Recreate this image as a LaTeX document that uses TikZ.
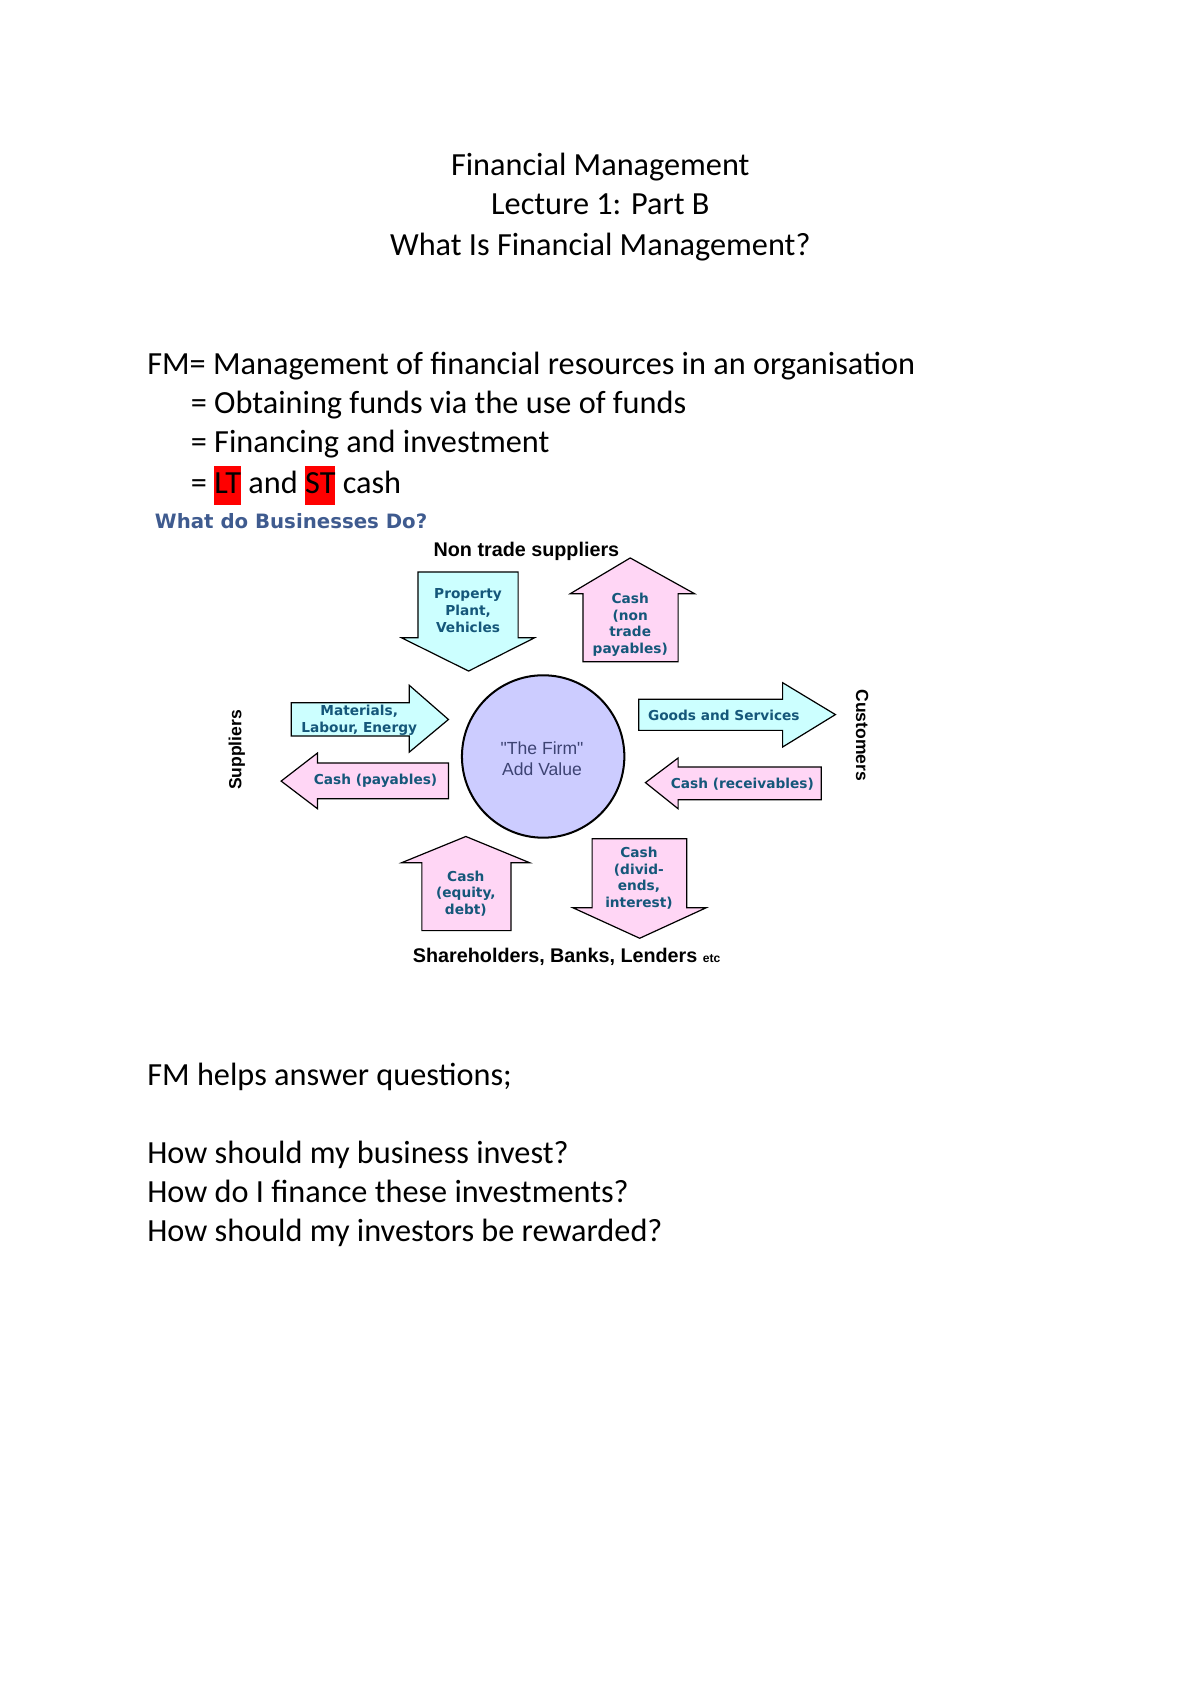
\documentclass[tikz,border=0pt]{standalone}
\usepackage{fontspec}
\setmainfont{Carlito}
\newfontfamily\vfont{DejaVu Sans}
\newfontfamily\afont{Liberation Sans}
\definecolor{flowcyan}{RGB}{204,255,255}
\definecolor{flowpink}{RGB}{255,214,245}
\definecolor{firmfill}{RGB}{204,204,255}
\definecolor{flowtext}{RGB}{21,87,122}
\definecolor{firmtext}{RGB}{61,67,115}
\definecolor{headblue}{RGB}{63,91,143}
\newcommand{\hlred}[1]{{\setlength{\fboxsep}{0pt}\colorbox{red}{\strut #1}}}
\begin{document}
\begin{tikzpicture}[x=0.5397pt,y=-0.5397pt,
  bodytext/.style={anchor=base west,inner sep=0pt,font=\fontsize{16}{19.5}\selectfont},
  titletext/.style={anchor=base,inner sep=0pt,font=\fontsize{16}{19.5}\selectfont},
  flowlabel/.style={align=center,inner sep=0pt,text=flowtext,font=\vfont\bfseries\fontsize{6.8}{8.2}\selectfont},
  sidelabel/.style={inner sep=0pt,font=\afont\bfseries\fontsize{9.8}{11}\selectfont},
  flowin/.style={draw=black,line width=0.6pt,fill=flowcyan},
  flowout/.style={draw=black,line width=0.6pt,fill=flowpink}]
\path[use as bounding box] (0,0) rectangle (1103,1560);

% Text Node
\node[titletext] (title1) at (551.5,161) {Financial Management};
\node[titletext] (title2) at (551.5,197) {Lecture 1: Part B};
\node[titletext] (title3) at (551.5,235) {What Is Financial Management?};

% Text Node
\node[bodytext] (fm1) at (135,344) {FM= Management of financial resources in an organisation};
\node[bodytext] (fm2) at (175,380) {= Obtaining funds via the use of funds};
\node[bodytext] (fm3) at (175,416) {= Financing and investment};
\node[bodytext] (fm4) at (175,453) {= \hlred{LT} and \hlred{ST} cash};

% Text Node
\node[anchor=base west,inner sep=0pt,text=headblue,font=\vfont\bfseries\fontsize{9.8}{11}\selectfont] (what) at (142,485.6) {What do Businesses Do?};

%Shape: Circle
\draw[line width=1pt,fill=firmfill] (499,695) circle (74.6);
\node[align=center,inner sep=0pt,text=firmtext,font=\afont\fontsize{8.7}{10.4}\selectfont] (firm) at (498,696.7) {"The Firm"\\Add Value};

%Shape: Down Arrow
\draw[flowin] (384,525.5) -- (476,525.5) -- (476,586) -- (491,586) -- (430.5,616.5) -- (369,586) -- (384,586) -- cycle;
\node[flowlabel] (ppv) at (430,561) {Property\\Plant,\\Vehicles};
%Shape: Up Arrow
\draw[flowout] (535.6,608) -- (535.6,545.4) -- (524,545.4) -- (579,512.6) -- (638,545.4) -- (623,545.4) -- (623,608) -- cycle;
\node[flowlabel] (ntp) at (579,574) {Cash\\(non\\trade\\payables)};
%Shape: Right Arrow
\draw[flowin] (267.5,645.6) -- (376,645.6) -- (376,629.6) -- (412,661) -- (376,691) -- (376,676.2) -- (267.5,676.2) -- cycle;
\node[flowlabel] (mle) at (330,661.5) {Materials,\\Labour, Energy};
%Shape: Left Arrow
\draw[flowout] (412,701) -- (291.7,701) -- (291.7,691.8) -- (258.3,717.6) -- (291.7,743) -- (291.7,733.8) -- (412,733.8) -- cycle;
\node[flowlabel] (pay) at (345,717.6) {Cash (payables)};
%Shape: Right Arrow
\draw[flowin] (586.8,642.5) -- (719,642.5) -- (719,627.2) -- (767.5,656.5) -- (719,686.3) -- (719,671) -- (586.8,671) -- cycle;
\node[flowlabel] (gs) at (665,657) {Goods and Services};
%Shape: Left Arrow
\draw[flowout] (754.4,704.7) -- (623,704.7) -- (623,696.4) -- (593,719) -- (623,743) -- (623,734.7) -- (754.4,734.7) -- cycle;
\node[flowlabel] (rec) at (682,720.7) {Cash (receivables)};
%Shape: Up Arrow
\draw[flowout] (387.6,855) -- (387.6,792.6) -- (369,792.6) -- (428,768.5) -- (486.6,792.6) -- (469.4,792.6) -- (469.4,855) -- cycle;
\node[flowlabel] (eqd) at (428,821) {Cash\\(equity,\\debt)};
%Shape: Down Arrow
\draw[flowout] (544,770.6) -- (631,770.6) -- (631,834) -- (648.7,834) -- (587.7,862) -- (526.4,834) -- (544,834) -- cycle;
\node[flowlabel] (div) at (587,807) {Cash\\(divid-\\ends,\\interest)};

% Text Node
\node[sidelabel,anchor=base west] (nts) at (398,511.7) {Non trade suppliers};
\node[sidelabel,rotate=90,font=\afont\bfseries\fontsize{8.7}{10}\selectfont] (sup) at (217.5,689) {Suppliers};
\node[sidelabel,rotate=-90,font=\afont\bfseries\fontsize{8.7}{10}\selectfont] (cus) at (792,675.6) {Customers};
\node[sidelabel,anchor=base west] (sbl) at (379,884) {Shareholders, Banks, Lenders {\fontsize{6}{7}\selectfont etc}};

% Text Node
\node[bodytext] (q0) at (135,997) {FM helps answer questions;};
\node[bodytext] (q1) at (135,1068.5) {How should my business invest?};
\node[bodytext] (q2) at (135,1104.5) {How do I finance these investments?};
\node[bodytext] (q3) at (135,1141) {How should my investors be rewarded?};

\end{tikzpicture}
\end{document}
